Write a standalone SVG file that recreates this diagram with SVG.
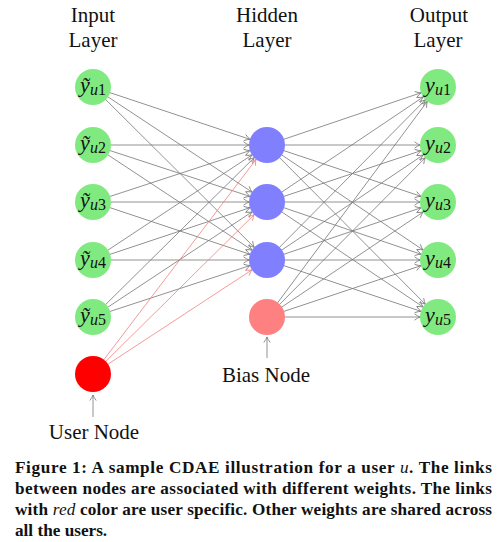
<svg xmlns="http://www.w3.org/2000/svg" width="503" height="542" viewBox="0 0 503 542">
<style>
.lbl{font-family:"Liberation Serif",serif;fill:#111;text-anchor:middle}
.hdr{font-size:21px}
.ann{font-size:21px}
.math{font-family:"Liberation Serif",serif;font-style:italic;font-size:22px;fill:#111;text-anchor:middle}
.sub{font-size:16px}
.up{font-style:normal}
.e{stroke:#767676;stroke-width:0.8;fill:none}
.eu{stroke:#f28080;stroke-width:0.8;fill:none}
.in{fill:#80ea80}
.hid{fill:#8080ff}
.bias{fill:#ff8080}
.user{fill:#ff0000}
.cap{font-family:"Liberation Serif",serif;font-weight:bold;font-size:17.2px;fill:#111}
.it{font-style:italic;font-weight:normal}
</style>
<defs>
<marker id="ag" markerUnits="userSpaceOnUse" orient="auto" refX="0" refY="0" markerWidth="1" markerHeight="1" overflow="visible">
<path d="M -23.5,-3.2 Q -20.2,-0.8 -18,0 Q -20.2,0.8 -23.5,3.2" fill="none" stroke="#767676" stroke-width="0.8"/>
</marker>
<marker id="ar" markerUnits="userSpaceOnUse" orient="auto" refX="0" refY="0" markerWidth="1" markerHeight="1" overflow="visible">
<path d="M -23.5,-3.2 Q -20.2,-0.8 -18,0 Q -20.2,0.8 -23.5,3.2" fill="none" stroke="#f28080" stroke-width="0.8"/>
</marker>
<marker id="a0" markerUnits="userSpaceOnUse" orient="auto" refX="0" refY="0" markerWidth="1" markerHeight="1" overflow="visible">
<path d="M -5.5,-3.2 Q -2.2,-0.8 0,0 Q -2.2,0.8 -5.5,3.2" fill="none" stroke="#767676" stroke-width="0.8"/>
</marker>
</defs>

<g id="connectors" marker-end="url(#ag)">
<line class="e" x1="93" y1="87" x2="267" y2="145"/>
<line class="e" x1="93" y1="87" x2="267" y2="202"/>
<line class="e" x1="93" y1="87" x2="267" y2="260"/>
<line class="e" x1="93" y1="145" x2="267" y2="145"/>
<line class="e" x1="93" y1="145" x2="267" y2="202"/>
<line class="e" x1="93" y1="145" x2="267" y2="260"/>
<line class="e" x1="93" y1="202" x2="267" y2="145"/>
<line class="e" x1="93" y1="202" x2="267" y2="202"/>
<line class="e" x1="93" y1="202" x2="267" y2="260"/>
<line class="e" x1="93" y1="260" x2="267" y2="145"/>
<line class="e" x1="93" y1="260" x2="267" y2="202"/>
<line class="e" x1="93" y1="260" x2="267" y2="260"/>
<line class="e" x1="93" y1="317" x2="267" y2="145"/>
<line class="e" x1="93" y1="317" x2="267" y2="202"/>
<line class="e" x1="93" y1="317" x2="267" y2="260"/>
<line class="e" x1="267" y1="145" x2="438" y2="87"/>
<line class="e" x1="267" y1="145" x2="438" y2="145"/>
<line class="e" x1="267" y1="145" x2="438" y2="202"/>
<line class="e" x1="267" y1="145" x2="438" y2="260"/>
<line class="e" x1="267" y1="145" x2="438" y2="317"/>
<line class="e" x1="267" y1="202" x2="438" y2="87"/>
<line class="e" x1="267" y1="202" x2="438" y2="145"/>
<line class="e" x1="267" y1="202" x2="438" y2="202"/>
<line class="e" x1="267" y1="202" x2="438" y2="260"/>
<line class="e" x1="267" y1="202" x2="438" y2="317"/>
<line class="e" x1="267" y1="260" x2="438" y2="87"/>
<line class="e" x1="267" y1="260" x2="438" y2="145"/>
<line class="e" x1="267" y1="260" x2="438" y2="202"/>
<line class="e" x1="267" y1="260" x2="438" y2="260"/>
<line class="e" x1="267" y1="260" x2="438" y2="317"/>
<line class="e" x1="267" y1="317" x2="438" y2="87"/>
<line class="e" x1="267" y1="317" x2="438" y2="145"/>
<line class="e" x1="267" y1="317" x2="438" y2="202"/>
<line class="e" x1="267" y1="317" x2="438" y2="260"/>
<line class="e" x1="267" y1="317" x2="438" y2="317"/>
<line class="eu" marker-end="url(#ar)" x1="93" y1="374" x2="267" y2="145"/>
<line class="eu" marker-end="url(#ar)" x1="93" y1="374" x2="267" y2="202"/>
<line class="eu" marker-end="url(#ar)" x1="93" y1="374" x2="267" y2="260"/>
<line class="e" marker-end="url(#a0)" x1="93" y1="417" x2="93" y2="395"/>
<line class="e" marker-end="url(#a0)" x1="267" y1="358" x2="267" y2="337"/>
</g>

<g id="headers">
<text class="lbl hdr" font-family="Liberation Serif" x="93" y="22">Input</text>
<text class="lbl hdr" font-family="Liberation Serif" x="93" y="47">Layer</text>
<text class="lbl hdr" font-family="Liberation Serif" x="267" y="22">Hidden</text>
<text class="lbl hdr" font-family="Liberation Serif" x="267" y="47">Layer</text>
<text class="lbl hdr" font-family="Liberation Serif" x="439" y="22">Output</text>
<text class="lbl hdr" font-family="Liberation Serif" x="438" y="47">Layer</text>
</g>

<g id="in1"><circle class="in" cx="93" cy="87" r="18"/><text class="math" x="93" y="91.5">ỹ<tspan class="sub" dy="3">u</tspan><tspan class="sub up">1</tspan></text></g>
<g id="in2"><circle class="in" cx="93" cy="145" r="18"/><text class="math" x="93" y="149.5">ỹ<tspan class="sub" dy="3">u</tspan><tspan class="sub up">2</tspan></text></g>
<g id="in3"><circle class="in" cx="93" cy="202" r="18"/><text class="math" x="93" y="206.5">ỹ<tspan class="sub" dy="3">u</tspan><tspan class="sub up">3</tspan></text></g>
<g id="in4"><circle class="in" cx="93" cy="260" r="18"/><text class="math" x="93" y="264.5">ỹ<tspan class="sub" dy="3">u</tspan><tspan class="sub up">4</tspan></text></g>
<g id="in5"><circle class="in" cx="93" cy="317" r="18"/><text class="math" x="93" y="321.5">ỹ<tspan class="sub" dy="3">u</tspan><tspan class="sub up">5</tspan></text></g>

<g id="user"><circle class="user" cx="93" cy="374" r="18"/><text class="lbl ann" font-family="Liberation Serif" x="94" y="439">User Node</text></g>

<g id="hid1"><circle class="hid" cx="267" cy="145" r="18"/></g>
<g id="hid2"><circle class="hid" cx="267" cy="202" r="18"/></g>
<g id="hid3"><circle class="hid" cx="267" cy="260" r="18"/></g>
<g id="bias"><circle class="bias" cx="267" cy="317" r="18"/><text class="lbl ann" font-family="Liberation Serif" x="266" y="382">Bias Node</text></g>

<g id="out1"><circle class="in" cx="438" cy="87" r="18"/><text class="math" x="438" y="91.5">y<tspan class="sub" dy="3">u</tspan><tspan class="sub up">1</tspan></text></g>
<g id="out2"><circle class="in" cx="438" cy="145" r="18"/><text class="math" x="438" y="149.5">y<tspan class="sub" dy="3">u</tspan><tspan class="sub up">2</tspan></text></g>
<g id="out3"><circle class="in" cx="438" cy="202" r="18"/><text class="math" x="438" y="206.5">y<tspan class="sub" dy="3">u</tspan><tspan class="sub up">3</tspan></text></g>
<g id="out4"><circle class="in" cx="438" cy="260" r="18"/><text class="math" x="438" y="264.5">y<tspan class="sub" dy="3">u</tspan><tspan class="sub up">4</tspan></text></g>
<g id="out5"><circle class="in" cx="438" cy="317" r="18"/><text class="math" x="438" y="321.5">y<tspan class="sub" dy="3">u</tspan><tspan class="sub up">5</tspan></text></g>

<g id="caption">
<text class="cap" font-family="Liberation Serif" x="15" y="473" textLength="477" lengthAdjust="spacing">Figure 1: A sample CDAE illustration for a user <tspan class="it">u</tspan>. The links</text>
<text class="cap" font-family="Liberation Serif" x="15" y="494" textLength="477" lengthAdjust="spacing">between nodes are associated with different weights. The links</text>
<text class="cap" font-family="Liberation Serif" x="15" y="515" textLength="477" lengthAdjust="spacing">with <tspan class="it">red</tspan> color are user specific. Other weights are shared across</text>
<text class="cap" font-family="Liberation Serif" x="15" y="535.5">all the users.</text>
</g>
</svg>
